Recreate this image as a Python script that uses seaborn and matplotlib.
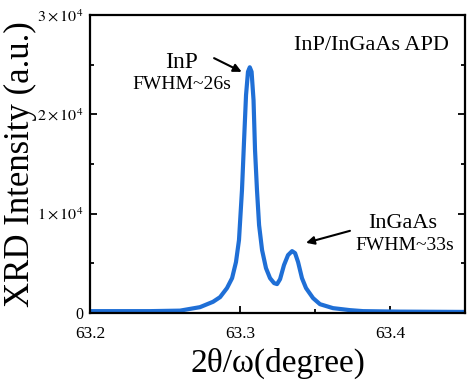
import matplotlib
matplotlib.use("Agg")
import matplotlib.pyplot as plt
import matplotlib.ticker as mticker
import seaborn as sns

# XRD rocking curve
two_theta = [63.200, 63.240, 63.260, 63.2733, 63.282, 63.2867, 63.2913, 63.2947,
             63.2973, 63.2993, 63.3013, 63.3027, 63.3040, 63.3053, 63.3065, 63.3077,
             63.3090, 63.3100, 63.3113, 63.3127, 63.3147, 63.3173, 63.3200, 63.3227,
             63.3247, 63.3267, 63.3293, 63.3320, 63.3347, 63.3367, 63.3387, 63.3413,
             63.3440, 63.3487, 63.3533, 63.3620, 63.3733, 63.3820, 63.4067, 63.4500]
intensity = [200, 200, 250, 600, 1140, 1610, 2520, 3520,
             5140, 7350, 12390, 17420, 21950, 24300, 24750, 24300,
             21450, 16410, 12390, 8860, 6340, 4530, 3520, 3020,
             2920, 3420, 4830, 5840, 6240, 6040, 5140, 3520,
             2520, 1510, 900, 500, 300, 200, 150, 120]

x_ticks = [63.2, 63.3, 63.4]
x_tick_labels = ["63.2", "63.3", "63.4"]
y_ticks = [0, 10000, 20000, 30000]
y_tick_labels = ["0", r"$1\times10^4$", r"$2\times10^4$", r"$3\times10^4$"]

sns.set_style("ticks")
plt.rcParams['font.family'] = ['Liberation Serif', 'DejaVu Serif']
plt.rcParams['mathtext.fontset'] = 'stix'
plt.rcParams['text.color'] = 'black'
plt.rcParams['axes.labelcolor'] = 'black'
plt.rcParams['xtick.color'] = 'black'
plt.rcParams['ytick.color'] = 'black'

fig = plt.figure(figsize=(4.74, 3.88), dpi=100)
ax = fig.add_axes([0.19, 0.193, 0.791, 0.768])

sns.lineplot(x=two_theta, y=intensity, ax=ax, color='#1f6fd6', linewidth=3.0, sort=False)

ax.set_xlim(63.2, 63.45)
ax.set_ylim(0, 30000)
ax.set_xticks(x_ticks)
ax.set_xticklabels(x_tick_labels)
ax.set_yticks(y_ticks)
ax.set_yticklabels(y_tick_labels)
ax.xaxis.set_minor_locator(mticker.MultipleLocator(0.05))
ax.yaxis.set_minor_locator(mticker.MultipleLocator(5000))
ax.tick_params(axis='x', which='major', direction='in', top=False, length=5, width=1.3, pad=9, labelsize=12.5)
ax.tick_params(axis='y', which='major', direction='in', right=True, length=5, width=1.3, pad=5, labelsize=11.5)
ax.tick_params(axis='both', which='minor', direction='in', top=False, right=True, length=3, width=1.3)
for sp in ax.spines.values():
    sp.set_linewidth(1.6)
    sp.set_color('black')

ax.set_xlabel("2θ/ω(degree)", fontsize=24)
ax.set_ylabel("XRD Intensity (a.u.)", fontsize=25)
ax.xaxis.set_label_coords(0.5, -0.115)
ax.yaxis.set_label_coords(-0.142, 0.5)

ax.text(63.3873, 26980, "InP/InGaAs APD", fontsize=16, ha='center', va='center')
ax.text(63.2613, 25250, "InP", fontsize=17, ha='center', va='center')
ax.text(63.2613, 23050, "FWHM~26s", fontsize=14, ha='center', va='center')
ax.text(63.4087, 9060, "InGaAs", fontsize=16, ha='center', va='center')
ax.text(63.4100, 6845, "FWHM~33s", fontsize=14, ha='center', va='center')

arrow = dict(arrowstyle='-|>', color='black', lw=1.5, mutation_scale=12, shrinkA=0, shrinkB=0)
ax.annotate("", xy=(63.3011, 24290), xytext=(63.2827, 25670), arrowprops=arrow)
ax.annotate("", xy=(63.3440, 7077), xytext=(63.3733, 8285), arrowprops=arrow)

fig.savefig("out.png", dpi=100)
